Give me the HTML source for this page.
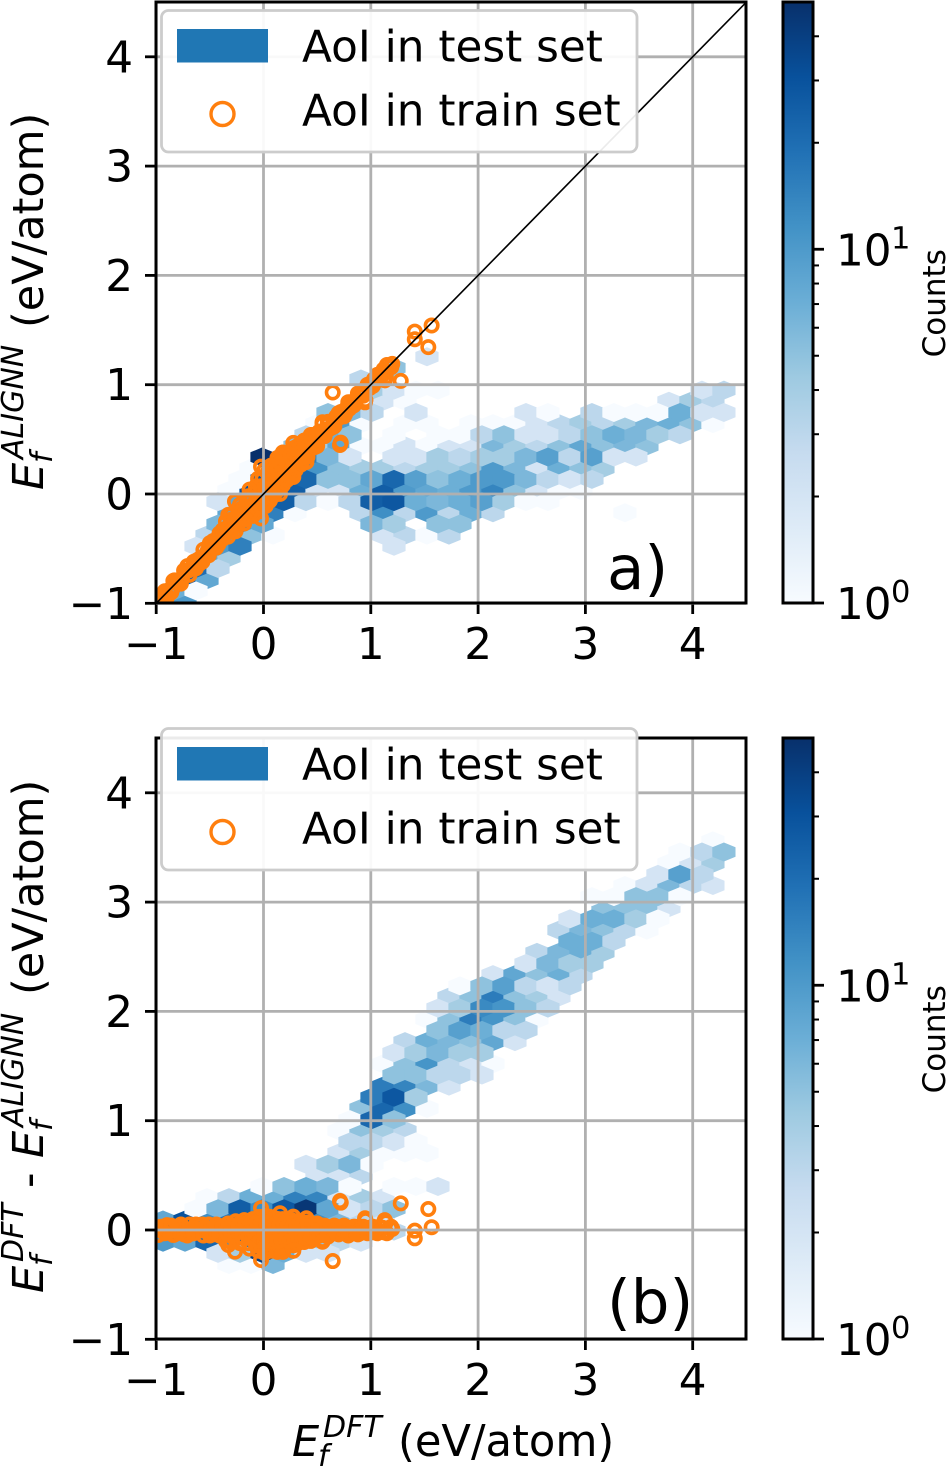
<!DOCTYPE html>
<html>
<head>
<meta charset="utf-8">
<title>ALIGNN formation energy hexbin charts</title>
<style>
html,body{margin:0;padding:0;background:#fff;}
svg{display:block;font-family:"DejaVu Sans","Liberation Sans",sans-serif;}
</style>
</head>
<body>
<svg id="figure" xmlns="http://www.w3.org/2000/svg" width="947" height="1469" viewBox="0 0 947 1469">
  <defs>
    <linearGradient id="blues" x1="0" y1="1" x2="0" y2="0">
      <stop offset="0" stop-color="#f7fbff"/><stop offset="0.125" stop-color="#deebf7"/><stop offset="0.25" stop-color="#c6dbef"/><stop offset="0.375" stop-color="#9ecae1"/><stop offset="0.5" stop-color="#6baed6"/><stop offset="0.625" stop-color="#4292c6"/><stop offset="0.75" stop-color="#2171b5"/><stop offset="0.875" stop-color="#08519c"/><stop offset="1" stop-color="#08306b"/>
    </linearGradient>
    <clipPath id="clip-a"><rect x="156" y="2" width="590" height="601"/></clipPath>
    <clipPath id="clip-b"><rect x="156" y="738" width="590" height="601"/></clipPath>
  </defs>
  <rect width="947" height="1469" fill="#fff"/>
  <g id="panel-a"></g>
  <g id="panel-b"></g>

  <!-- y axis title, panel a -->
  <g font-size="43" fill="#000">
    <text transform="translate(43,490) rotate(-90)" font-style="italic">E</text>
    <text transform="translate(52,463) rotate(-90)" font-size="30" font-style="italic">f</text>
    <text transform="translate(23,459) rotate(-90)" font-size="30" font-style="italic">ALIGNN</text>
    <text transform="translate(43,328) rotate(-90)">(eV/atom)</text>
  </g>
  <!-- y axis title, panel b -->
  <g font-size="43" fill="#000">
    <text transform="translate(43,1293) rotate(-90)" font-style="italic">E</text>
    <text transform="translate(52,1266) rotate(-90)" font-size="30" font-style="italic">f</text>
    <text transform="translate(23,1262) rotate(-90)" font-size="30" font-style="italic">DFT</text>
    <text transform="translate(43,1188) rotate(-90)">-</text>
    <text transform="translate(43,1158) rotate(-90)" font-style="italic">E</text>
    <text transform="translate(52,1131) rotate(-90)" font-size="30" font-style="italic">f</text>
    <text transform="translate(23,1127) rotate(-90)" font-size="30" font-style="italic">ALIGNN</text>
    <text transform="translate(43,995) rotate(-90)">(eV/atom)</text>
  </g>
  <!-- x axis title -->
  <g font-size="43" fill="#000">
    <text x="292" y="1456" font-style="italic">E</text>
    <text x="318" y="1466" font-size="30" font-style="italic">f</text>
    <text x="323" y="1437" font-size="30" font-style="italic">DFT</text>
    <text x="398" y="1456" font-size="43.2">(eV/atom)</text>
  </g>
</svg>

<script>
// ---------- axis values ----------
const xTickValues = [-1, 0, 1, 2, 3, 4];
const yTickValues = [-1, 0, 1, 2, 3, 4];
const colorbarMajorTicks = [1, 10];
const colorbarMinorTicks = [2, 3, 4, 5, 6, 7, 8, 9, 20, 30, 40];
const colorbarMaxCount = 50;

// ---------- hexbin panel a: half-step bin column, half-step bin row, count ----------
const panelAHexCol = [
15,
12,
9,
10,12,14,16,
11,13,
6,8,10,14,24,26,30,32,34,36,38,40,42,
5,7,9,13,15,19,21,23,25,27,29,31,33,35,37,39,41,
4,6,8,12,16,18,20,22,24,26,28,30,32,34,36,38,
3,5,7,9,11,13,15,17,19,21,23,25,27,29,31,33,35,
0,2,4,6,8,12,14,16,18,20,22,24,26,28,30,32,34,
-1,1,3,5,7,9,11,13,15,17,19,21,23,25,27,29,31,
-2,0,2,4,6,8,10,12,14,16,18,20,22,24,26,28,30,
-3,-1,1,3,5,7,9,11,13,15,17,19,21,23,25,27,29,
-4,-2,0,2,4,6,8,10,12,14,16,18,20,22,24,26,
-3,-1,1,3,9,11,13,15,17,19,21,33,
-4,-2,0,10,12,16,18,
-5,-3,-1,1,11,13,15,17,
-6,-4,-2,12,
-5,-3,
-6,-4,
-7,-5,
-8,-6,
-9,-7,
37,39,41,
40,42
];
const panelAHexRow = [
13,
12,
11,
10,10,10,10,
9,9,
8,8,8,8,8,8,8,8,8,8,8,8,8,
7,7,7,7,7,7,7,7,7,7,7,7,7,7,7,7,7,
6,6,6,6,6,6,6,6,6,6,6,6,6,6,6,6,
5,5,5,5,5,5,5,5,5,5,5,5,5,5,5,5,5,
4,4,4,4,4,4,4,4,4,4,4,4,4,4,4,4,4,
3,3,3,3,3,3,3,3,3,3,3,3,3,3,3,3,3,
2,2,2,2,2,2,2,2,2,2,2,2,2,2,2,2,2,
1,1,1,1,1,1,1,1,1,1,1,1,1,1,1,1,1,
0,0,0,0,0,0,0,0,0,0,0,0,0,0,0,0,
-1,-1,-1,-1,-1,-1,-1,-1,-1,-1,-1,-1,
-2,-2,-2,-2,-2,-2,-2,
-3,-3,-3,-3,-3,-3,-3,-3,
-4,-4,-4,-4,
-5,-5,
-6,-6,
-7,-7,
-8,-8,
-9,-9,
9,9,9,
10,10
];
const panelAHexCount = [
2,
5,
3,
4,2,1,1,
2,1,
5,6,3,2,2,1,3,1,1,1,7,2,2,
1,10,1,1,1,1,1,1,2,3,4,3,4,6,7,5,1,
3,7,5,1,1,1,3,5,2,2,3,5,7,6,4,3,
5,4,8,1,1,2,1,2,2,6,4,3,5,8,5,6,5,
50,3,15,6,2,2,2,4,3,4,4,6,9,3,9,2,2,
1,30,25,11,5,4,4,3,4,4,5,10,6,2,7,5,4,
1,30,20,22,5,5,8,22,9,5,7,10,10,6,3,2,3,
1,30,20,25,2,2,7,25,10,8,7,10,14,5,2,1,1,
2,8,15,25,3,1,3,25,28,7,6,7,9,4,1,1,
8,15,15,1,3,12,3,10,3,7,3,1,
6,15,8,6,4,5,5,
3,8,5,1,2,3,1,3,
2,10,15,2,
8,4,
20,3,
25,8,
7,1,
3,10,
2,4,3,
2,3
];

// ---------- hexbin panel b ----------
const panelBHexCol = [
41,
38,40,42,
37,39,41,
36,38,40,
33,35,37,39,41,
30,32,34,36,38,
31,33,35,37,
28,30,32,34,36,
27,29,31,33,35,
28,30,32,
25,27,29,31,
24,26,28,30,
21,23,25,27,29,
18,20,22,24,26,28,
17,19,21,23,25,27,
16,18,20,22,24,26,
15,17,19,21,23,25,
16,18,20,22,24,
13,15,17,19,21,23,
12,14,16,18,20,
11,13,15,17,19,21,
12,14,16,18,20,
11,13,15,17,
10,12,14,
9,11,13,15,
8,10,12,
7,9,11,13,
8,10,12,14,
7,9,11,13,15,
4,6,8,10,
5,7,9,
0,2,4,6,8,12,14,16,
-5,-3,-1,1,3,5,7,9,11,
-6,-4,-2,0,2,4,6,8,10,12,
-9,-7,-5,-3,-1,1,3,5,7,9,11,
-10,-8,-6,-4,-2,0,2,4,6,8,10,12,
-9,-7,-5,-3,-1,1,3,5,7,9,
-4,-2,0,2,4,6,
-3,-1,1
];
const panelBHexRow = [
35,
34,34,34,
33,33,33,
32,32,32,
31,31,31,31,31,
30,30,30,30,30,
29,29,29,29,
28,28,28,28,28,
27,27,27,27,27,
26,26,26,
25,25,25,25,
24,24,24,24,
23,23,23,23,23,
22,22,22,22,22,22,
21,21,21,21,21,21,
20,20,20,20,20,20,
19,19,19,19,19,19,
18,18,18,18,18,
17,17,17,17,17,17,
16,16,16,16,16,
15,15,15,15,15,15,
14,14,14,14,14,
13,13,13,13,
12,12,12,
11,11,11,11,
10,10,10,
9,9,9,9,
8,8,8,8,
7,7,7,7,7,
6,6,6,6,
5,5,5,
4,4,4,4,4,4,4,4,
3,3,3,3,3,3,3,3,3,
2,2,2,2,2,2,2,2,2,2,
1,1,1,1,1,1,1,1,1,1,1,
0,0,0,0,0,0,0,0,0,0,0,0,
-1,-1,-1,-1,-1,-1,-1,-1,-1,-1,
-2,-2,-2,-2,-2,-2,
-3,-3,-3
];
const panelBHexCount = [
1,
1,3,5,
1,2,4,
2,9,3,
1,2,6,3,2,
1,1,5,5,1,
5,5,5,2,
2,7,7,4,1,
3,6,5,3,1,
7,7,3,
3,6,7,4,
2,6,4,4,
2,8,5,7,3,
1,5,9,3,2,3,
3,5,16,5,4,2,
2,4,13,11,5,3,
1,5,16,11,5,1,
5,9,7,3,3,
3,7,6,5,8,2,
2,4,6,4,4,
1,5,11,3,2,1,
5,5,3,3,2,
16,14,6,2,
16,28,4,
5,22,12,1,
1,22,5,
1,5,4,3,
3,3,2,1,
2,4,1,1,1,
2,4,6,1,
2,2,3,
1,5,7,6,1,1,1,2,
1,3,7,7,15,14,2,4,2,
1,6,25,12,28,45,8,2,3,5,
8,30,12,18,20,25,30,12,6,3,2,
7,25,20,25,30,50,30,20,12,5,5,3,
10,8,22,12,20,25,10,5,3,2,
2,4,40,7,2,2,
1,1,6
];

// ---------- training-set points: DFT energy and DFT minus ALIGNN residual (eV/atom) ----------
const trainDft = [
-0.99,-0.97,-0.94,-0.91,-0.88,-0.85,-0.82,-0.79,-0.76,-0.73,
-0.70,-0.67,-0.64,-0.61,-0.58,-0.55,-0.52,-0.49,-0.46,-0.43,
-0.40,-0.37,-0.34,-0.31,-0.28,-0.25,-0.22,-0.19,-0.16,-0.13,
-0.10,-0.07,-0.04,-0.01,0.02,0.05,0.08,0.11,0.14,0.17,
0.20,0.23,0.26,0.29,0.32,0.35,0.38,0.41,0.44,0.47,
0.50,0.53,0.56,0.59,0.62,0.65,0.68,0.71,0.74,0.77,
0.80,0.83,0.86,0.89,0.92,0.95,0.98,1.01,1.04,1.07,
-0.96,-0.92,-0.86,-0.83,-0.78,-0.74,-0.69,-0.65,-0.60,-0.56,
-0.51,-0.47,-0.42,-0.38,-0.33,-0.29,-0.24,-0.20,-0.15,-0.11,
-0.06,-0.02,0.03,0.07,0.12,0.16,0.21,0.25,0.30,0.34,
0.39,0.43,0.48,0.52,0.57,0.61,0.66,0.70,0.75,0.79,
0.84,0.88,0.93,0.97,1.02,1.06,1.11,1.15,1.18,1.20,
-0.35,-0.30,-0.26,-0.22,-0.18,-0.14,-0.10,-0.07,-0.04,-0.01,
0.02,0.04,0.06,0.08,0.10,0.12,0.14,0.16,0.18,0.20,
0.22,0.24,0.26,0.28,0.30,0.32,0.35,0.38,0.41,0.44,
-0.05,-0.02,0.01,0.03,0.07,0.09,0.13,0.15,0.19,0.23,
-0.03,0.00,0.05,0.11,0.17,0.27,0.33,0.46,0.50,0.55,
-0.38,-0.34,-0.30,-0.27,-0.23,-0.20,-0.17,-0.14,-0.11,-0.08,
-0.06,-0.03,-0.01,0.01,0.03,0.05,0.07,0.09,0.11,0.13,
0.15,0.17,0.19,0.21,0.23,0.25,0.27,0.29,0.31,0.33,
0.36,0.39,0.42,0.45,0.48,0.52,0.56,0.60,0.64,0.68,
-0.98,-0.90,-0.84,-0.77,-0.71,-0.63,-0.57,-0.50,-0.44,-0.41,
0.72,0.76,0.81,0.85,0.90,0.94,0.99,1.03,1.08,1.12,
0.713,0.72,1.279,1.536,1.567,1.41,1.41,0.645,1.13,0.946,
-0.023,-0.023,0.154,0.278,-0.266,-0.328,0.55,0.40,0.278,1.19,
1.08,1.14,0.95,0.60,-0.13,0.18
];
const trainResidual = [
0.01,0,-0.01,0.01,0,0.02,-0.01,0,0.01,-0.02,
0,0.01,0.01,-0.01,0,0.02,0,-0.01,0.01,0,
-0.02,0.01,0,0.02,-0.01,0,0.01,-0.02,0,0.01,
0,-0.01,0.02,0,-0.01,0.01,0,-0.02,0.01,0,
0.01,-0.01,0,0.02,-0.01,0,0.01,0,-0.02,0.01,
0,0.01,-0.01,0,0.02,0,-0.01,0.01,0,-0.01,
0.02,0,0.01,-0.01,0,0.01,0,-0.01,0.01,-0.02,
0.03,-0.03,0.04,-0.04,0.03,-0.04,0.05,-0.03,0.04,-0.05,
0.05,-0.04,0.04,-0.05,0.06,-0.06,0.05,-0.07,0.06,-0.08,
0.08,-0.09,0.09,-0.08,0.07,-0.09,0.07,-0.08,0.06,-0.07,
0.05,-0.06,0.05,-0.05,0.04,-0.05,0.04,-0.04,0.04,-0.05,
0.03,-0.04,0.03,-0.03,0.03,-0.03,0.02,-0.03,0.02,0.01,
-0.10,-0.11,0.08,-0.12,0.09,-0.12,0.10,-0.14,0.12,-0.15,
0.13,-0.16,0.12,-0.17,0.11,-0.15,0.10,-0.16,0.10,-0.14,
0.09,-0.13,0.09,-0.14,0.08,-0.12,0.08,-0.11,0.07,-0.10,
-0.19,0.11,-0.21,0.10,-0.19,0.09,-0.20,0.08,-0.18,0.06,
0.05,-0.06,0.06,-0.05,0.05,-0.06,0.04,-0.08,0.06,-0.09,
0.03,-0.03,0.04,-0.04,0.03,-0.06,0.06,-0.07,0.07,-0.09,
0.07,-0.10,0.04,-0.04,0.06,-0.10,0.03,-0.11,0.05,-0.10,
0.04,-0.10,0.05,-0.09,0.04,-0.10,0.03,-0.09,0.04,-0.08,
0.03,-0.07,0.03,-0.06,0.03,-0.05,0.03,-0.04,0.03,-0.03,
-0.045,0.045,-0.045,0.05,-0.05,0.05,0.05,-0.05,0.05,-0.05,
-0.03,0.03,-0.03,0.03,-0.03,0.02,0.02,-0.02,0.03,-0.02,
0.265,0.25,0.244,0.192,0.025,-0.006,-0.076,-0.284,0.09,0.107,
0.20,-0.274,0.153,-0.19,-0.198,-0.137,-0.107,0.107,0.122,0.03,
-0.016,0.07,0.09,-0.06,-0.17,-0.2
];

// ---------- scales ----------
const SVGNS = 'http://www.w3.org/2000/svg';
const X_ZERO = 263.5, X_UNIT = 107.3;
const xScale = v => X_ZERO + v * X_UNIT;
const yScaleA = v => 494 - v * 109.3;
const yScaleB = v => 1230 - v * 109.3;
const binX = col => -0.014 + 0.1025 * col;
const binYA = row => -0.070 + 0.102 * row;
const binYB = row => -0.010 + 0.102 * row;

const bluesStops = [[247,251,255],[222,235,247],[198,219,239],[158,202,225],[107,174,214],[66,146,198],[33,113,181],[8,81,156],[8,48,107]];
function bluesColor(count) {
  const f = Math.max(0, Math.min(1, Math.log(count) / Math.log(colorbarMaxCount)));
  const p = f * (bluesStops.length - 1);
  const i = Math.min(bluesStops.length - 2, Math.floor(p));
  const t = p - i;
  const c = bluesStops[i].map((v, k) => Math.round(v + (bluesStops[i + 1][k] - v) * t));
  return 'rgb(' + c.join(',') + ')';
}

function mk(parent, tag, attrs, text) {
  const el = document.createElementNS(SVGNS, tag);
  for (const k in attrs) el.setAttribute(k, attrs[k]);
  if (text !== undefined) el.textContent = text;
  parent.appendChild(el);
  return el;
}

const HEX_W = 11.6, HEX_H = 9.5, HEX_S = 4.75;
const TICK_FONT = 43.7;
function hexPoints(cx, cy) {
  return [[HEX_W, -HEX_S], [HEX_W, HEX_S], [0, HEX_H], [-HEX_W, HEX_S], [-HEX_W, -HEX_S], [0, -HEX_H]]
    .map(p => (cx + p[0]).toFixed(2) + ',' + (cy + p[1]).toFixed(2)).join(' ');
}

function drawHexes(parent, cols, rows, counts, yScale, binY) {
  // the odd lattice is painted first so the even lattice overlaps it
  [1, 0].forEach(parity => {
    cols.forEach((c, i) => {
      if (Math.abs(rows[i]) % 2 !== parity) return;
      const el = mk(parent, 'polygon', {
        points: hexPoints(xScale(binX(c)), yScale(binY(rows[i]))),
        fill: bluesColor(counts[i])
      });
      
      
    });
  });
}

function drawPoints(parent, yValue, yScale) {
  trainDft.forEach((d, i) => {
    const el = mk(parent, 'circle', {
      cx: xScale(d).toFixed(2),
      cy: yScale(yValue(d, trainResidual[i])).toFixed(2),
      r: 6.2, fill: 'none', stroke: '#ff7f0e', 'stroke-width': 3.6
    });
    
    
  });
}

function drawAxes(parent, yScale, top, bottom, showDiagonal) {
  const left = 156, right = 746;
  xTickValues.forEach(v => {
    const g = mk(parent, 'line', { x1: xScale(v), x2: xScale(v), y1: top, y2: bottom, stroke: '#b0b0b0', 'stroke-width': 2.8 });
    
    
    const t = mk(parent, 'line', { x1: xScale(v), x2: xScale(v), y1: bottom, y2: bottom + 11, stroke: '#000', 'stroke-width': 2.8 });
    
    
    const l = mk(parent, 'text', { x: xScale(v), y: bottom + 56, 'text-anchor': 'middle', 'font-size': TICK_FONT, fill: '#000' }, String(v).replace('-', '\u2212'));
    
    
  });
  yTickValues.forEach(v => {
    const g = mk(parent, 'line', { x1: left, x2: right, y1: yScale(v), y2: yScale(v), stroke: '#b0b0b0', 'stroke-width': 2.8 });
    
    
    const t = mk(parent, 'line', { x1: left - 11, x2: left, y1: yScale(v), y2: yScale(v), stroke: '#000', 'stroke-width': 2.8 });
    
    
    const l = mk(parent, 'text', { x: 133, y: yScale(v) + 15.5, 'text-anchor': 'end', 'font-size': TICK_FONT, fill: '#000' }, String(v).replace('-', '\u2212'));
    
    
  });
  if (showDiagonal) {
    const d = mk(parent, 'line', { x1: xScale(-1), y1: yScale(-1), x2: xScale(4.5), y2: yScale(4.5), stroke: '#000', 'stroke-width': 1.6, 'clip-path': 'url(#clip-a)' });
    
    
  }
  const frame = mk(parent, 'rect', { x: left, y: top, width: right - left, height: bottom - top, fill: 'none', stroke: '#000', 'stroke-width': 3 });
  
  
}

function drawLegend(parent, dy) {
  const g = mk(parent, 'g', {});
  
  
  const box = mk(g, 'rect', { x: 161.5, y: 10.5 + dy, width: 475.5, height: 141.5, rx: 7, ry: 7, fill: '#fff', 'fill-opacity': 0.92, stroke: '#cccccc', 'stroke-width': 2.8 });
  
  
  const swatch = mk(g, 'rect', { x: 177, y: 29 + dy, width: 91, height: 33.5, fill: '#2077b4' });
  
  
  const t1 = mk(g, 'text', { x: 302, y: 61.5 + dy, 'font-size': TICK_FONT, fill: '#000' }, 'AoI in test set');
  
  
  const marker = mk(g, 'circle', { cx: 222.5, cy: 114 + dy, r: 11.5, fill: 'none', stroke: '#ff7f0e', 'stroke-width': 3.4 });
  
  
  const t2 = mk(g, 'text', { x: 302, y: 125.5 + dy, 'font-size': TICK_FONT, fill: '#000' }, 'AoI in train set');
  
  
}

function drawColorbar(parent, top, bottom) {
  const left = 783, right = 813;
  const decade = (bottom - top) / Math.log10(colorbarMaxCount);
  const cbY = c => bottom - Math.log10(c) * decade;
  const bar = mk(parent, 'rect', { x: left, y: top, width: right - left, height: bottom - top, fill: 'url(#blues)', stroke: '#000', 'stroke-width': 3 });
  
  
  colorbarMinorTicks.forEach(c => {
    const t = mk(parent, 'line', { x1: right, x2: right + 6, y1: cbY(c), y2: cbY(c), stroke: '#000', 'stroke-width': 2 });
    
    
  });
  colorbarMajorTicks.forEach(c => {
    const y = cbY(c);
    const t = mk(parent, 'line', { x1: right, x2: right + 11, y1: y, y2: y, stroke: '#000', 'stroke-width': 2.8 });
    
    
    const base = mk(parent, 'text', { x: 836, y: y + 16, 'font-size': TICK_FONT, fill: '#000' }, '10');
    
    
    const exp = mk(parent, 'text', { x: 891, y: y - 1, 'font-size': 30.5, fill: '#000' }, String(Math.round(Math.log10(c))));
    
    
  });
  const cy = cbY(10) + 54;
  const title = mk(parent, 'text', { transform: 'translate(945,' + cy + ') rotate(-90)', 'text-anchor': 'middle', 'font-size': 31, fill: '#000' }, 'Counts');
  
  
}

// ---------- panel a ----------
const panelA = document.getElementById('panel-a');
const marksA = mk(panelA, 'g', { 'clip-path': 'url(#clip-a)' });


drawHexes(marksA, panelAHexCol, panelAHexRow, panelAHexCount, yScaleA, binYA);
drawPoints(marksA, (d, r) => d - r, yScaleA);
drawAxes(panelA, yScaleA, 2, 603, true);
drawLegend(panelA, 0);
const noteA = mk(panelA, 'text', { x: 607, y: 589, 'font-size': 61, fill: '#000' }, 'a)');


drawColorbar(panelA, 2, 603);

// ---------- panel b ----------
const panelB = document.getElementById('panel-b');
const marksB = mk(panelB, 'g', { 'clip-path': 'url(#clip-b)' });


drawHexes(marksB, panelBHexCol, panelBHexRow, panelBHexCount, yScaleB, binYB);
drawPoints(marksB, (d, r) => r, yScaleB);
drawAxes(panelB, yScaleB, 738, 1339, false);
drawLegend(panelB, 718);
const noteB = mk(panelB, 'text', { x: 607, y: 1323, 'font-size': 61, fill: '#000' }, '(b)');


drawColorbar(panelB, 738, 1339);
</script>
</body>
</html>
